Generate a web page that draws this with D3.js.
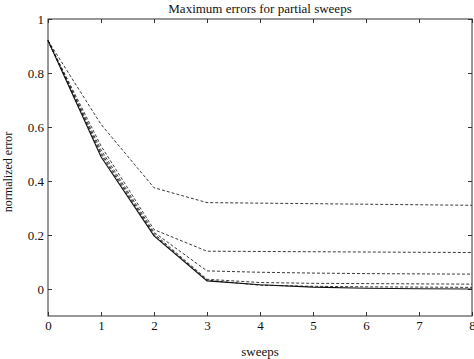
<!DOCTYPE html>
<html><head><meta charset="utf-8">
<script src="https://cdn.jsdelivr.net/npm/d3@7"></script>
<style>body{margin:0;background:#fff}text{font-family:"Liberation Serif","DejaVu Serif",serif;fill:#111}</style>
</head><body><svg id="c" width="474" height="359"></svg>
<script>
const sweeps = [0,1,2,3,4,5,6,7,8];
const seriesA = [0.92,0.61,0.375,0.32,0.318,0.316,0.314,0.312,0.31];
const seriesB = [0.92,0.53,0.22,0.14,0.139,0.138,0.137,0.136,0.135];
const seriesC = [0.92,0.515,0.21,0.067,0.062,0.059,0.057,0.056,0.055];
const seriesD = [0.92,0.505,0.205,0.036,0.024,0.021,0.02,0.019,0.018];
const seriesE = [0.92,0.498,0.2,0.033,0.014,0.01,0.008,0.007,0.006];
const seriesSolid = [0.92,0.49,0.197,0.03,0.016,0.007,0.003,0.001,0.0];
const xTicks = [0,1,2,3,4,5,6,7,8];
const yTicks = [0,0.2,0.4,0.6,0.8,1];

const svg = d3.select("#c");
const L=48,R=472,T=19,B=316;
const x = d3.scaleLinear().domain([0,8]).range([L,R]);
const y = d3.scaleLinear().domain([-0.1,1]).range([B,T]);

svg.append("rect").attr("x",L).attr("y",T).attr("width",R-L).attr("height",B-T)
  .attr("fill","none").attr("stroke","#333").attr("stroke-width",1);

const fmt = d => d===0?"0":d===1?"1":d3.format(".1f")(d);
const gx = svg.append("g").attr("transform",`translate(0,${B})`)
  .call(d3.axisBottom(x).tickValues(xTicks).tickSizeInner(-4).tickSizeOuter(0).tickPadding(5).tickFormat(d3.format("d")));
const gxt = svg.append("g").attr("transform",`translate(0,${T})`)
  .call(d3.axisTop(x).tickValues(xTicks).tickSizeInner(-4).tickSizeOuter(0).tickFormat(""));
const gy = svg.append("g").attr("transform",`translate(${L},0)`)
  .call(d3.axisLeft(y).tickValues(yTicks).tickSizeInner(-4).tickSizeOuter(0).tickPadding(4).tickFormat(fmt));
const gyr = svg.append("g").attr("transform",`translate(${R},0)`)
  .call(d3.axisRight(y).tickValues(yTicks).tickSizeInner(-4).tickSizeOuter(0).tickFormat(""));
[gx,gxt,gy,gyr].forEach(g=>{
  g.select(".domain").remove();
  g.selectAll(".tick line").attr("stroke","#333");
  g.selectAll("text").attr("font-size",13).attr("font-family","Liberation Serif").attr("fill","#111");
});

const line = d3.line().x((d,i)=>x(sweeps[i])).y(d=>y(d));
[seriesA,seriesB,seriesC,seriesD,seriesE].forEach(s=>{
  svg.append("path").datum(s).attr("d",line).attr("fill","none")
    .attr("stroke","#222").attr("stroke-width",0.9).attr("stroke-dasharray","3,2");
});
svg.append("path").datum(seriesSolid).attr("d",line).attr("fill","none")
  .attr("stroke","#111").attr("stroke-width",1.1);

svg.append("text").attr("x",(L+R)/2).attr("y",13).attr("text-anchor","middle")
  .attr("font-size",13).text("Maximum errors for partial sweeps");
svg.append("text").attr("x",(L+R)/2).attr("y",356).attr("text-anchor","middle")
  .attr("font-size",13).text("sweeps");
svg.append("text").attr("transform",`translate(12,172) rotate(-90)`).attr("text-anchor","middle")
  .attr("font-size",12).text("normalized error");
</script></body></html>
